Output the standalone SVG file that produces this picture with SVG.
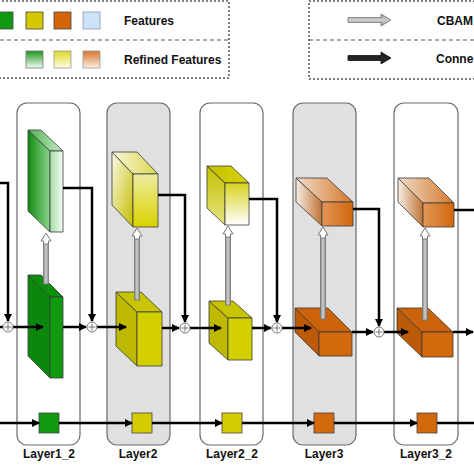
<svg xmlns="http://www.w3.org/2000/svg" width="474" height="474" viewBox="0 0 474 474">
<style>
text{font-family:"Liberation Sans",Arial,sans-serif;font-weight:bold;font-size:12px;fill:#111}
.lbl{text-anchor:middle}
.panel{fill:#fff;stroke:#6a6a6a;stroke-width:1.2}
.panel.g{fill:#e0e0e0}
.f{stroke:#3a3a3a;stroke-width:0.8;stroke-linejoin:round}
.ln{fill:none;stroke:#000;stroke-width:2.5}
.ar{fill:none;stroke:#000;stroke-width:2.5;marker-end:url(#ah)}
.plus{fill:#fff;stroke:#777;stroke-width:1}
.pl{stroke:#777;stroke-width:1}
.cs{fill:url(#cbs);stroke:#777;stroke-width:0.8}
.ch{fill:#fff;stroke:#777;stroke-width:1}
.gm-f{fill:#0f9a0f}.gm-l{fill:#0b870b}.gm-t{fill:#0c900c}
.ym-f{fill:#d4d000}.ym-l{fill:#bdb900}.ym-t{fill:#c8c400}
.om-f{fill:#d4680c}.om-l{fill:#bd5a08}.om-t{fill:#cc620a}
.sq{stroke:#444;stroke-width:0.8}
.box{fill:none;stroke:#555;stroke-width:1.5;stroke-dasharray:2,2}
.div{stroke:#555;stroke-width:1.2;stroke-dasharray:4,3}
</style>
<defs>
<marker id="ah" viewBox="0 0 8 8" refX="7" refY="4" markerWidth="8" markerHeight="8" markerUnits="userSpaceOnUse" orient="auto"><path d="M0,0 L8,4 L0,8 z" fill="#000"/></marker>
<linearGradient id="cbs" x1="0" y1="0" x2="1" y2="0"><stop offset="0" stop-color="#8a8a8a"/><stop offset="0.5" stop-color="#d0d0d0"/><stop offset="1" stop-color="#8a8a8a"/></linearGradient>
<linearGradient id="cbh" x1="0" y1="0" x2="0" y2="1"><stop offset="0" stop-color="#8a8a8a"/><stop offset="0.5" stop-color="#d0d0d0"/><stop offset="1" stop-color="#8a8a8a"/></linearGradient>
<linearGradient id="gl" x1="0" y1="0" x2="1" y2="0"><stop offset="0" stop-color="#108a10"/><stop offset="1" stop-color="#8ed48e"/></linearGradient>
<linearGradient id="gf" x1="0" y1="0" x2="1" y2="0"><stop offset="0" stop-color="#a2dca2"/><stop offset="1" stop-color="#f6fcf6"/></linearGradient>
<linearGradient id="gt" x1="0" y1="0" x2="1" y2="0"><stop offset="0" stop-color="#50b050"/><stop offset="1" stop-color="#c8ecc8"/></linearGradient>
<linearGradient id="y2l" x1="0" y1="0" x2="1" y2="1"><stop offset="0" stop-color="#fbfbe8"/><stop offset="1" stop-color="#c4bc00"/></linearGradient>
<linearGradient id="y2f" x1="0" y1="0" x2="0" y2="1"><stop offset="0" stop-color="#eeeca0"/><stop offset="1" stop-color="#d8d200"/></linearGradient>
<linearGradient id="y2t" x1="0" y1="0" x2="1" y2="0"><stop offset="0" stop-color="#f6f6d8"/><stop offset="1" stop-color="#dcd850"/></linearGradient>
<linearGradient id="y3l" x1="0" y1="0" x2="0" y2="1"><stop offset="0" stop-color="#c4c000"/><stop offset="1" stop-color="#e6e480"/></linearGradient>
<linearGradient id="y3f" x1="0" y1="0" x2="0" y2="1"><stop offset="0" stop-color="#d8d420"/><stop offset="1" stop-color="#ffffff"/></linearGradient>
<linearGradient id="y3t" x1="0" y1="0" x2="1" y2="0"><stop offset="0" stop-color="#c4c000"/><stop offset="1" stop-color="#d6d200"/></linearGradient>
<linearGradient id="ol" x1="0" y1="0" x2="1" y2="0"><stop offset="0" stop-color="#f6ede4"/><stop offset="1" stop-color="#c07234"/></linearGradient>
<linearGradient id="ot" x1="0" y1="0" x2="1" y2="0"><stop offset="0" stop-color="#f0dcca"/><stop offset="1" stop-color="#d4782a"/></linearGradient>
<linearGradient id="of" x1="0" y1="0" x2="1" y2="0"><stop offset="0" stop-color="#e29658"/><stop offset="1" stop-color="#d2660e"/></linearGradient>
<linearGradient id="lg" x1="0" y1="0" x2="0" y2="1"><stop offset="0" stop-color="#1e961e"/><stop offset="1" stop-color="#f4fbf4"/></linearGradient>
<linearGradient id="ly" x1="0" y1="0" x2="0" y2="1"><stop offset="0" stop-color="#dcd820"/><stop offset="1" stop-color="#fefde6"/></linearGradient>
<linearGradient id="lo" x1="0" y1="0" x2="0" y2="1"><stop offset="0" stop-color="#d8742a"/><stop offset="1" stop-color="#fdf0e4"/></linearGradient>
</defs>

<g id="legend">
<rect class="box" x="-10" y="1" width="239" height="77"/>
<line class="div" x1="0" y1="40" x2="229" y2="40"/>
<rect class="sq" x="-5" y="12" width="18" height="17" fill="#119911"/>
<rect class="sq" x="26" y="12" width="17" height="17" fill="#d4c800"/>
<rect class="sq" x="54" y="12" width="17" height="17" fill="#d4650a"/>
<rect x="83" y="12" width="17" height="17" fill="#cde3f8" stroke="#8a9ab0" stroke-width="0.8"/>
<text x="124" y="25">Features</text>
<rect x="26" y="51" width="17" height="17" fill="url(#lg)" stroke="#777" stroke-width="0.8"/>
<rect x="54" y="51" width="17" height="17" fill="url(#ly)" stroke="#999" stroke-width="0.8"/>
<rect x="83" y="51" width="17" height="17" fill="url(#lo)" stroke="#999" stroke-width="0.8"/>
<text x="124" y="64">Refined Features</text>
<rect class="box" x="309" y="1" width="200" height="78"/>
<line class="div" x1="309" y1="40" x2="474" y2="40"/>
<polygon points="348,17.5 381,17.5 381,14 391,20 381,26 381,22.5 348,22.5" fill="url(#cbh)" stroke="#777" stroke-width="0.8"/>
<text x="437" y="25">CBAM</text>
<polygon points="348,55.5 381,55.5 381,52 391,58 381,64 381,60.5 348,60.5" fill="#222" stroke="#111" stroke-width="0.8"/>
<text x="436" y="63">Conne</text>
</g>

<g id="panels">
<rect class="panel" x="17" y="103" width="63" height="342" rx="10"/>
<rect class="panel g" x="107" y="103" width="63" height="342" rx="10"/>
<rect class="panel" x="200" y="103" width="63" height="342" rx="10"/>
<rect class="panel g" x="293" y="103" width="63" height="342" rx="10"/>
<rect class="panel" x="394" y="103" width="64" height="342" rx="10"/>
</g>

<g id="layer1_2">
<g id="layer1_2-refined">
<polygon class="f" fill="url(#gl)" points="28,130 50,151 50,232 28,211"/>
<polygon class="f" fill="url(#gt)" points="28,130 41,130 63,151 50,151"/>
<rect class="f" fill="url(#gf)" x="50" y="151" width="13" height="81"/>
</g>
<g id="layer1_2-main">
<polygon class="f gm-l" points="28,275 50,297 50,378 28,356"/>
<polygon class="f gm-t" points="28,275 41,275 63,297 50,297"/>
<rect class="f gm-f" x="50" y="297" width="13" height="81"/>
</g>
<rect id="layer1_2-small" class="sq" x="39" y="413" width="20" height="20" fill="#119911"/>
<text class="lbl" x="49" y="458">Layer1_2</text>
</g>

<g id="layer2">
<g id="layer2-refined">
<polygon class="f" fill="url(#y2l)" points="112,152 133,174 133,227 112,205"/>
<polygon class="f" fill="url(#y2t)" points="112,152 137,152 158,174 133,174"/>
<rect class="f" fill="url(#y2f)" x="133" y="174" width="25" height="53"/>
</g>
<g id="layer2-main">
<polygon class="f ym-l" points="116,292 137,312 137,366 116,346"/>
<polygon class="f ym-t" points="116,292 141,292 162,312 137,312"/>
<rect class="f ym-f" x="137" y="312" width="25" height="54"/>
</g>
<rect id="layer2-small" class="sq" x="132" y="413" width="20" height="20" fill="#d4cc00"/>
<text class="lbl" x="138" y="458">Layer2</text>
</g>

<g id="layer2_2">
<g id="layer2_2-refined">
<polygon class="f" fill="url(#y3l)" points="207,166 225,183 225,225 207,208"/>
<polygon class="f" fill="url(#y3t)" points="207,166 231,166 249,183 225,183"/>
<rect class="f" fill="url(#y3f)" x="225" y="183" width="24" height="42"/>
</g>
<g id="layer2_2-main">
<polygon class="f ym-l" points="209,301 228,318 228,360 209,343"/>
<polygon class="f ym-t" points="209,301 233,301 252,318 228,318"/>
<rect class="f ym-f" x="228" y="318" width="24" height="42"/>
</g>
<rect id="layer2_2-small" class="sq" x="222" y="413" width="20" height="20" fill="#d4cc00"/>
<text class="lbl" x="232" y="458">Layer2_2</text>
</g>

<g id="layer3">
<g id="layer3-refined">
<polygon class="f" fill="url(#ol)" points="296,178 322,202 322,226 296,202"/>
<polygon class="f" fill="url(#ot)" points="296,178 327,178 353,202 322,202"/>
<rect class="f" fill="url(#of)" x="322" y="202" width="31" height="24"/>
</g>
<g id="layer3-main">
<polygon class="f om-l" points="295,308 319,332 319,356 295,332"/>
<polygon class="f om-t" points="295,308 328,308 352,332 319,332"/>
<rect class="f om-f" x="319" y="332" width="33" height="24"/>
</g>
<rect id="layer3-small" class="sq" x="314" y="413" width="20" height="20" fill="#d4680c"/>
<text class="lbl" x="324" y="458">Layer3</text>
</g>

<g id="layer3_2">
<g id="layer3_2-refined">
<polygon class="f" fill="url(#ol)" points="398,178 423,203 423,227 398,202"/>
<polygon class="f" fill="url(#ot)" points="398,178 429,178 454,203 423,203"/>
<rect class="f" fill="url(#of)" x="423" y="203" width="31" height="24"/>
</g>
<g id="layer3_2-main">
<polygon class="f om-l" points="397,308 422,332 422,357 397,333"/>
<polygon class="f om-t" points="397,308 428,308 453,332 422,332"/>
<rect class="f om-f" x="422" y="332" width="31" height="25"/>
</g>
<rect id="layer3_2-small" class="sq" x="417" y="413" width="20" height="20" fill="#d4680c"/>
<text class="lbl" x="426" y="458">Layer3_2</text>
</g>

<g id="connectors">
<path class="ar" d="M0,183 H8 V321"/>
<path class="ar" d="M63,188 H92 V321"/>
<path class="ar" d="M158,195 H185 V322"/>
<path class="ar" d="M249,199 H277 V322"/>
<path class="ar" d="M353,209 H379 V326"/>
<path class="ln" d="M454,210 H474"/>
<path class="ln" d="M0,327 H3"/>
<path class="ar" d="M13,327 H43"/>
<path class="ar" d="M63,327 H86"/>
<path class="ar" d="M97,327 H126"/>
<path class="ar" d="M162,328 H179"/>
<path class="ar" d="M190,328 H221"/>
<path class="ar" d="M252,328 H271"/>
<path class="ar" d="M282,328 H311"/>
<path class="ar" d="M352,332 H373"/>
<path class="ar" d="M384,332 H408"/>
<path class="ar" d="M453,332 H473"/>
<path class="ar" d="M0,423 H39"/>
<path class="ar" d="M59,423 H132"/>
<path class="ar" d="M152,423 H222"/>
<path class="ar" d="M242,423 H314"/>
<path class="ar" d="M334,423 H417"/>
<path class="ln" d="M437,423 H474"/>
<g id="add1"><circle class="plus" cx="8" cy="327" r="5"/><path class="pl" d="M4.5,327 H11.5 M8,323.5 V330.5"/></g>
<g id="add2"><circle class="plus" cx="92" cy="327" r="5"/><path class="pl" d="M88.5,327 H95.5 M92,323.5 V330.5"/></g>
<g id="add3"><circle class="plus" cx="185" cy="328" r="5"/><path class="pl" d="M181.5,328 H188.5 M185,324.5 V331.5"/></g>
<g id="add4"><circle class="plus" cx="277" cy="328" r="5"/><path class="pl" d="M273.5,328 H280.5 M277,324.5 V331.5"/></g>
<g id="add5"><circle class="plus" cx="379" cy="332" r="5"/><path class="pl" d="M375.5,332 H382.5 M379,328.5 V335.5"/></g>
<g id="cbam1"><rect class="cs" x="43.5" y="240" width="5" height="44"/><polygon class="ch" points="46,233 51,241 48.5,241 48.5,244 43.5,244 43.5,241 41,241"/></g>
<g id="cbam2"><rect class="cs" x="134.5" y="235" width="5" height="65"/><polygon class="ch" points="137,228 142,236 139.5,236 139.5,239 134.5,239 134.5,236 132,236"/></g>
<g id="cbam3"><rect class="cs" x="225.5" y="233" width="5" height="72"/><polygon class="ch" points="228,226 233,234 230.5,234 230.5,237 225.5,237 225.5,234 223,234"/></g>
<g id="cbam4"><rect class="cs" x="320.5" y="234" width="5" height="85"/><polygon class="ch" points="323,227 328,235 325.5,235 325.5,238 320.5,238 320.5,235 318,235"/></g>
<g id="cbam5"><rect class="cs" x="422.5" y="235" width="5" height="85"/><polygon class="ch" points="425,228 430,236 427.5,236 427.5,239 422.5,239 422.5,236 420,236"/></g>
</g>
</svg>
